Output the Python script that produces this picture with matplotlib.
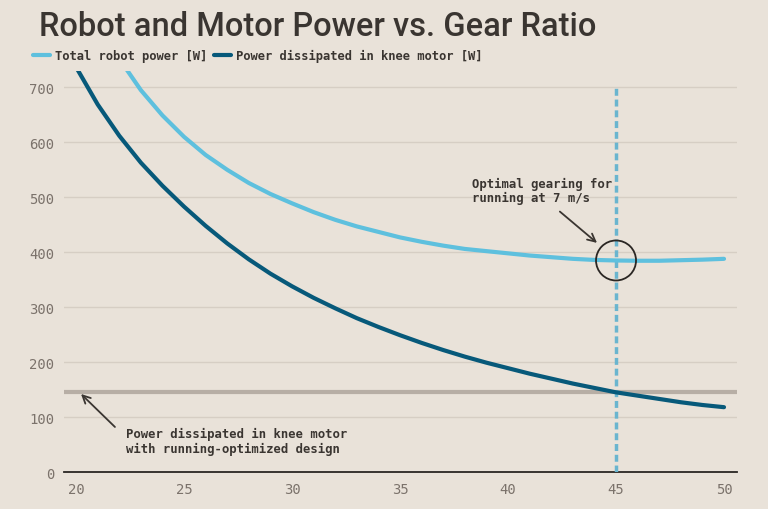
import numpy as np
import matplotlib.pyplot as plt
from matplotlib.patches import Ellipse

# Data
gear_total = [22, 23, 24, 25, 26, 27, 28, 29, 30, 31, 32, 33, 34, 35, 36, 37, 38, 39, 40,
              41, 42, 43, 44, 45, 46, 47, 48, 49, 50]
total_power = [752, 695, 649, 610, 577, 550, 526, 506, 489, 473, 459, 447, 437, 427, 419, 412,
               406, 402, 398, 394, 391, 388, 386, 385, 384.5, 384.5, 385.5, 386.5, 388]

gear_knee = [20, 21, 22, 23, 24, 25, 26, 27, 28, 29, 30, 31, 32, 33, 34, 35, 36, 37, 38, 39, 40,
             41, 42, 43, 44, 45, 46, 47, 48, 49, 50]
knee_power = [737, 669, 612, 563, 521, 483, 448, 416, 387, 361, 338, 317, 298, 280, 264, 249,
              235, 222, 210, 199, 189, 179, 170, 161, 153, 145, 139, 133, 127, 122, 118]

optimized_power = 145
optimal_gear = 45
optimal_total = 385

x_ticks = [20, 25, 30, 35, 40, 45, 50]
y_ticks = [0, 100, 200, 300, 400, 500, 600, 700]

BG = '#e9e2d9'
LIGHT = '#5ec0de'
DARK = '#07597a'
GRID = '#d6cec4'
TEXT = '#3a3531'
TICK = '#7b726b'
MONO = 'DejaVu Sans Mono'

fig = plt.figure(figsize=(7.68, 5.10), dpi=100, facecolor=BG)
ax = fig.add_axes([0.0833, 0.0725, 0.8763, 0.7865], facecolor=BG)

# Grid lines and reference lines
for y in y_ticks[1:]:
    ax.axhline(y, color=GRID, lw=1.0, zorder=1)
ax.axhline(optimized_power, color='#b7aea5', lw=3, zorder=2)
ax.vlines(optimal_gear, 0, 700, color='#6ab5cf', lw=2.5, linestyles=(0, (2.0, 1.1)), zorder=3)

l1, = ax.plot(gear_total, total_power, color=LIGHT, lw=3, zorder=4,
              solid_capstyle='round', solid_joinstyle='round')
l2, = ax.plot(gear_knee, knee_power, color=DARK, lw=3, zorder=4,
              solid_capstyle='round', solid_joinstyle='round')

ax.set_xlim(19.44, 50.6)
ax.set_ylim(0, 730)

# Circle around the optimum, 40 px across
px_x = (50.6 - 19.44) / (0.8763 * 768)
px_y = 730 / (0.7865 * 510)
ax.add_patch(Ellipse((optimal_gear, optimal_total), 40 * px_x, 40 * px_y,
                     fill=False, ec='#2a2623', lw=1.3, zorder=5))

ax.text(38.33, 538, 'Optimal gearing for\nrunning at 7 m/s',
        fontsize=8.8, family=MONO, fontweight='bold', color=TEXT,
        va='top', ha='left', linespacing=1.15)
ax.annotate('', xy=(44.12, 417), xytext=(42.4, 474),
            arrowprops=dict(arrowstyle='->', color=TEXT, lw=1.3, mutation_scale=14,
                            shrinkA=0, shrinkB=0))
ax.annotate('', xy=(20.23, 142), xytext=(21.8, 82),
            arrowprops=dict(arrowstyle='->', color=TEXT, lw=1.3, mutation_scale=14,
                            shrinkA=0, shrinkB=0))
ax.text(22.31, 82, 'Power dissipated in knee motor\nwith running-optimized design',
        fontsize=8.8, family=MONO, fontweight='bold', color=TEXT,
        va='top', ha='left', linespacing=1.15)

ax.set_xticks(x_ticks)
ax.set_yticks(y_ticks)
ax.tick_params(length=0, labelsize=10, labelcolor=TICK, pad=7)
for lab in ax.get_xticklabels() + ax.get_yticklabels():
    lab.set_family(MONO)
for s in ['top', 'right', 'left']:
    ax.spines[s].set_visible(False)
ax.spines['bottom'].set_color('#2a2623')
ax.spines['bottom'].set_linewidth(1.3)

fig.text(0.051, 0.9294, 'Robot and Motor Power vs. Gear Ratio', fontsize=23.5,
         family='Roboto', fontweight='medium', color=TEXT, va='baseline', ha='left')

fig.legend([l1, l2], ['Total robot power [W]', 'Power dissipated in knee motor [W]'],
           loc='center left', bbox_to_anchor=(0.029, 0.889), ncol=2, frameon=False,
           handlelength=1.4, handletextpad=0.4, columnspacing=0.6,
           prop={'family': MONO, 'size': 8.7, 'weight': 'bold'}, labelcolor=TEXT)

fig.savefig('out.png', dpi=100, facecolor=BG)
